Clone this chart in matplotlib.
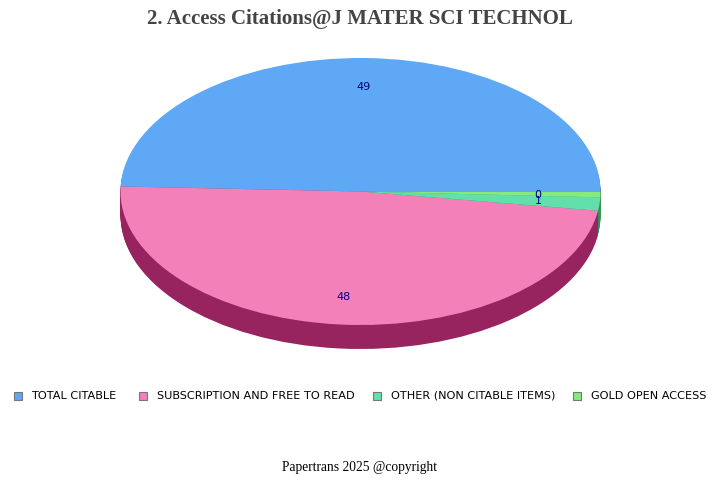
import matplotlib
matplotlib.use("Agg")
import matplotlib.pyplot as plt

categories = ["TOTAL CITABLE", "SUBSCRIPTION AND FREE TO READ", "OTHER (NON CITABLE ITEMS)", "GOLD OPEN ACCESS"]
shares = [49.4, 48.3, 1.6, 0.7]
shown_labels = ["49", "48", "1", "0"]
top_colors = ["#5FA8F5", "#F480BA", "#62E0AC", "#87EA7D"]
side_colors = ["#2F5F95", "#98245F", "#2E8F68", "#4C9A45"]


def fx(x):
    return x / 720


def fy(y):
    return 1 - y / 480


fig = plt.figure(figsize=(7.2, 4.8), dpi=100)

# pie top ellipse is 480 x 267 px, centered at (360, 191.5)
ax = fig.add_axes([fx(120.5), fy(325), 480 / 720, 267 / 480])
depth = 24
for dy in range(depth, 0, -1):
    side, _ = ax.pie(shares, colors=side_colors, startangle=0, counterclock=True,
                     center=(0, -dy / 133.5), radius=1)
    for w in side:
        w.set_clip_on(False)
top, _ = ax.pie(shares, colors=top_colors, startangle=0, counterclock=True, radius=1)
for w in top:
    w.set_clip_on(False)
ax.set_aspect("auto")
ax.set_xlim(-1, 1)
ax.set_ylim(-1, 1)

label_pos = [(364, 87), (344, 296.5), (538, 201.5), (538, 195)]
for txt, (x, y) in zip(shown_labels, label_pos):
    fig.text(fx(x), fy(y), txt, color="#000080", fontsize=8, ha="center", va="center")

fig.text(0.5, fy(19), "2. Access Citations@J MATER SCI TECHNOL", family="Liberation Serif",
         fontweight="bold", fontsize=15, color="#444444", ha="center", va="center")
fig.text(fx(359.5), fy(467), "Papertrans 2025 @copyright", family="Liberation Serif",
         fontsize=9.75, color="black", ha="center", va="center")

# legend laid out by hand, the entry with brackets snaps one pixel lower
swatch_x = [14, 139, 373, 573]
text_x = [31.5, 157, 391, 591]
text_y = [399, 399, 398.5, 399]
for c, name, sx, tx, ty in zip(top_colors, categories, swatch_x, text_x, text_y):
    fig.add_artist(plt.Rectangle((fx(sx), fy(400)), 8 / 720, 8 / 480, transform=fig.transFigure,
                                 facecolor=c, edgecolor="#777777", linewidth=0.8))
    fig.text(fx(tx), fy(ty), name, fontsize=8.1, color="black", ha="left", va="baseline")

fig.savefig("out.png", dpi=100)
